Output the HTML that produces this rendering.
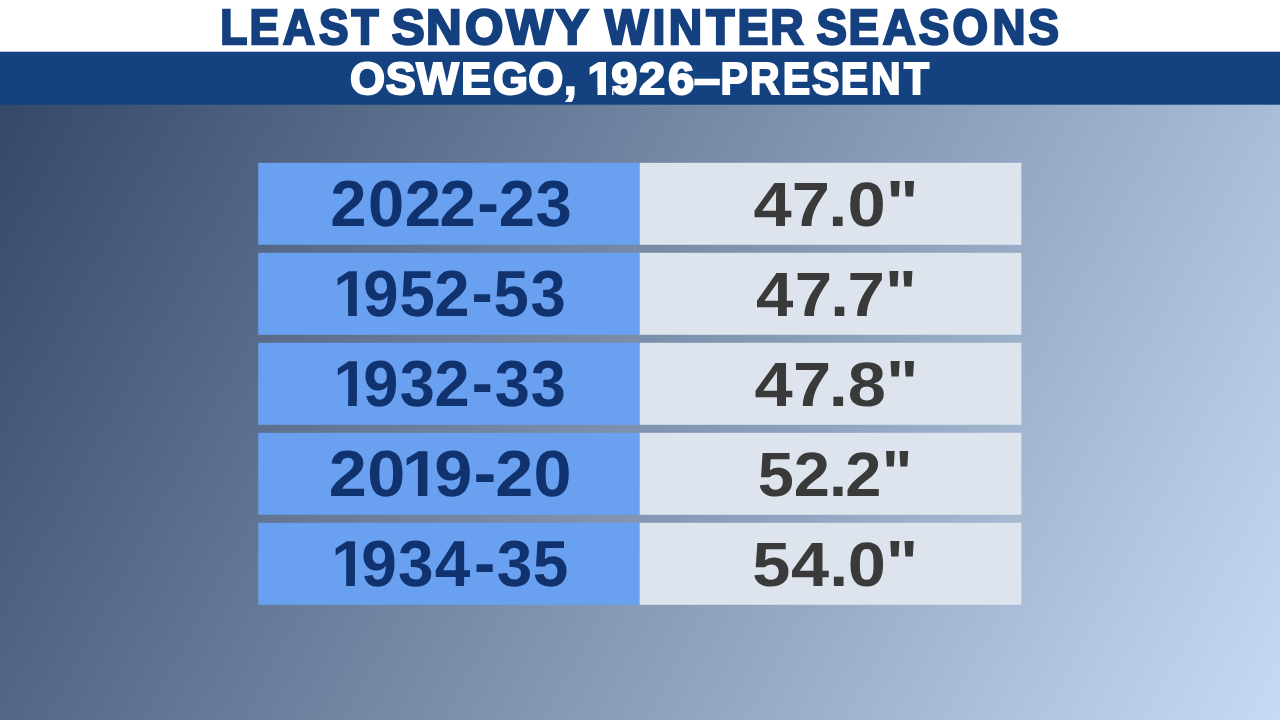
<!DOCTYPE html>
<html lang="en">
<head>
<meta charset="utf-8">
<title>Least Snowy Winter Seasons</title>
<style>
html,body{margin:0;padding:0;background:#fff;}
body{width:1280px;height:720px;overflow:hidden;font-family:"Liberation Sans",sans-serif;}
svg{display:block;position:absolute;left:0;top:0;}
text{font-family:"Liberation Sans",sans-serif;font-weight:bold;text-rendering:geometricPrecision;}
.t1{fill:#14407f;stroke:#14407f;stroke-width:2.4px;font-size:49.5px;}
.t2{fill:#ffffff;stroke:#ffffff;stroke-width:2.0px;font-size:45.0px;}
.yr{fill:#103370;font-size:65.0px;}
.val{fill:#3a3a3a;font-size:62.6px;}
</style>
</head>
<body>
<svg width="1280" height="720" viewBox="0 0 1280 720" role="img" aria-label="Least snowy winter seasons, Oswego, 1926–present">
<defs>
<linearGradient id="bg" gradientUnits="userSpaceOnUse" x1="0" y1="104" x2="1248.7" y2="778">
<stop offset="0" stop-color="rgb(54,72,104)"/>
<stop offset="1" stop-color="rgb(198,219,243)"/>
</linearGradient>
</defs>
<rect x="0" y="0" width="1280" height="52" fill="#ffffff"/>
<rect x="0" y="104" width="1280" height="616" fill="url(#bg)"/>
<rect x="0" y="51.7" width="1280" height="53" fill="#14417f"/>
<g class="headline">
<text class="t1" transform="scale(0.8935,1)" x="246.63 279.26 316.69 357.00 393.47" y="43.8">LEAST</text>
<text class="t1" transform="scale(0.9970,1)" x="392.98 427.23 466.53 507.82 557.52" y="43.8">SNOWY</text>
<text class="t1" transform="scale(0.9338,1)" x="647.61 698.65 716.16 756.20 789.70 824.97" y="43.8">WINTER</text>
<text class="t1" transform="scale(0.9231,1)" x="884.57 919.23 956.16 995.32 1031.78 1075.25 1114.12" y="43.8">SEASONS</text>
</g>
<g class="subhead">
<text class="t2" transform="scale(1.0008,1)" x="349.72 385.49 415.93 460.72 492.66 527.81 563.65" y="94.0">OSWEGO,</text>
<text class="t2" transform="scale(1.0455,1)" x="561.99 584.64 611.20 638.89 663.88" y="94.0">1926–</text><rect x="588.27" y="87.81" width="9.22" height="7.79" fill="#14417f"/><rect x="606.03" y="87.81" width="6.08" height="7.79" fill="#14417f"/><text class="t2" transform="scale(0.9116,1)" x="790.42 822.65 858.73 890.78 922.18 955.44 991.77" y="94.0">PRESENT</text>
</g>
<g class="cells">
<rect x="258.2" y="162.8" width="381.5" height="82" fill="#69a0ef"/>
<rect x="639.7" y="162.8" width="381.7" height="82" fill="#dde4ed"/>
<rect x="258.2" y="252.8" width="381.5" height="82" fill="#69a0ef"/>
<rect x="639.7" y="252.8" width="381.7" height="82" fill="#dde4ed"/>
<rect x="258.2" y="342.8" width="381.5" height="82" fill="#69a0ef"/>
<rect x="639.7" y="342.8" width="381.7" height="82" fill="#dde4ed"/>
<rect x="258.2" y="432.8" width="381.5" height="82" fill="#69a0ef"/>
<rect x="639.7" y="432.8" width="381.7" height="82" fill="#dde4ed"/>
<rect x="258.2" y="522.8" width="381.5" height="82" fill="#69a0ef"/>
<rect x="639.7" y="522.8" width="381.7" height="82" fill="#dde4ed"/>
</g>
<g class="table-text">
<text class="yr" transform="scale(1.0034,1)" x="329.14 366.74 403.42 438.03 475.55 497.16 533.57" y="226" dy="0 0 0 0 -1.3 1.3 0">2022-23</text>
<text class="val" transform="scale(1.0981,1)" x="686.23 720.93 754.18 771.71 806.79" y="226" dy="0 0 0 0 -2.2">47.0&quot;</text>
<text class="yr" transform="scale(0.9762,1)" x="341.51 372.01 409.24 444.95 483.09 505.59 543.53" y="316" dy="0 0 0 0 -1.3 1.3 0">1952-53</text><rect x="336.16" y="308.77" width="12.01" height="7.83" fill="#69a0ef"/><rect x="356.88" y="308.77" width="10.26" height="7.83" fill="#69a0ef"/>
<text class="val" transform="scale(1.0731,1)" x="704.48 740.58 773.81 789.85 824.72" y="316" dy="0 0 0 0 -2.2">47.7&quot;</text>
<text class="yr" transform="scale(0.9714,1)" x="343.24 373.85 411.51 447.36 485.59 509.40 546.34" y="406" dy="0 0 0 0 -1.3 1.3 0">1932-33</text><rect x="336.19" y="398.77" width="11.96" height="7.83" fill="#69a0ef"/><rect x="356.81" y="398.77" width="10.26" height="7.83" fill="#69a0ef"/>
<text class="val" transform="scale(1.0962,1)" x="688.22 723.44 755.95 773.31 808.15" y="406" dy="0 0 0 0 -2.2">47.8&quot;</text>
<text class="yr" transform="scale(1.0531,1)" x="312.24 348.79 381.70 412.35 449.59 470.22 506.71" y="496" dy="0 0 0 0 -1.3 1.3 0">2019-20</text><rect x="405.09" y="488.77" width="12.87" height="7.83" fill="#69a0ef"/><rect x="427.35" y="488.77" width="11.10" height="7.83" fill="#69a0ef"/>
<text class="val" transform="scale(1.0375,1)" x="730.40 765.07 799.05 814.80 849.79" y="496" dy="0 0 0 0 -2.2">52.2&quot;</text>
<text class="yr" transform="scale(0.9841,1)" x="336.50 367.09 404.40 441.84 481.77 504.77 541.31" y="586" dy="0 0 0 0 -1.3 1.3 0">1934-35</text><rect x="334.00" y="578.77" width="12.10" height="7.83" fill="#69a0ef"/><rect x="354.88" y="578.77" width="10.39" height="7.83" fill="#69a0ef"/>
<text class="val" transform="scale(1.0945,1)" x="687.28 722.70 757.59 774.59 809.38" y="586" dy="0 0 0 0 -2.2">54.0&quot;</text>
</g>
</svg>
</body>
</html>
